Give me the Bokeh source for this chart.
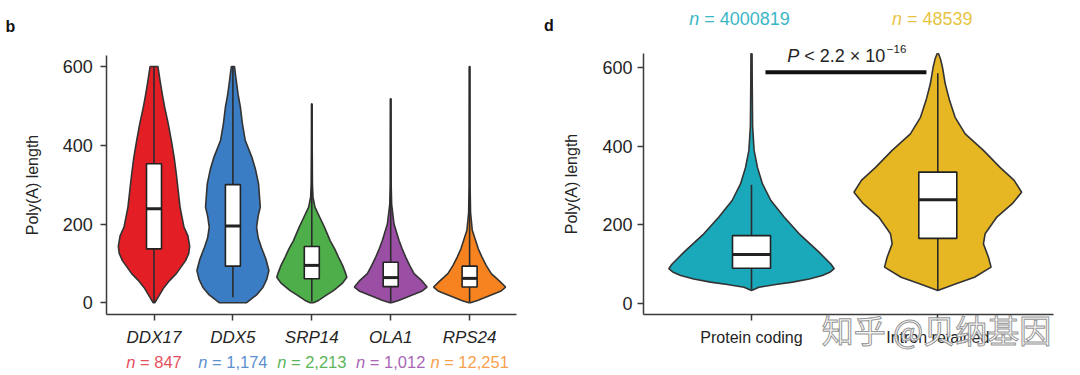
from bokeh.plotting import figure
from bokeh.layouts import row
from bokeh.models import Range1d, FixedTicker, Label
from bokeh.embed import file_html
from bokeh.resources import INLINE

FONT = "Liberation Sans"

# ---------------- panel b data ----------------
genes = ["DDX17", "DDX5", "SRP14", "OLA1", "RPS24"]
gene_counts = ["847", "1,174", "2,213", "1,012", "12,251"]
gene_fill = ["#E31E24", "#3B7DC4", "#4DAE4A", "#9A4FA5", "#F6831F"]
gene_count_color = ["#E5505E", "#5D90CF", "#5BB65A", "#A866B6", "#F7A04E"]

# violin outlines: poly(A) length values and half-widths (category units)
ddx17_y = [0, 20, 39, 57, 74, 107, 125, 143, 170, 192, 243, 327, 370, 412, 455, 497, 530, 565, 600]
ddx17_w = [0.01, 0.07, 0.127, 0.2, 0.283, 0.40, 0.44, 0.452, 0.43, 0.38, 0.33, 0.283, 0.255, 0.22, 0.18, 0.135, 0.105, 0.076, 0.05]
ddx5_y = [0, 20, 39, 60, 82, 110, 141, 165, 192, 220, 243, 302, 340, 370, 412, 455, 497, 530, 565, 600]
ddx5_w = [0.17, 0.3, 0.38, 0.43, 0.456, 0.42, 0.36, 0.32, 0.30, 0.32, 0.347, 0.325, 0.285, 0.24, 0.157, 0.12, 0.095, 0.065, 0.042, 0.02]
srp14_y = [0, 6, 20, 31, 50, 65, 74, 95, 116, 137, 158, 192, 209, 243, 268, 300, 400, 505]
srp14_w = [0.02, 0.085, 0.19, 0.275, 0.39, 0.444, 0.43, 0.39, 0.338, 0.29, 0.232, 0.16, 0.12, 0.04, 0.015, 0.008, 0.005, 0.004]
ola1_y = [0, 6, 18, 30, 40, 55, 74, 95, 116, 137, 158, 200, 250, 300, 518]
ola1_w = [0.01, 0.1, 0.25, 0.4, 0.46, 0.4, 0.296, 0.24, 0.19, 0.145, 0.106, 0.042, 0.012, 0.006, 0.004]
rps24_y = [0, 6, 18, 30, 40, 55, 74, 95, 116, 137, 158, 184, 230, 300, 600]
rps24_w = [0.01, 0.1, 0.25, 0.4, 0.456, 0.38, 0.275, 0.21, 0.157, 0.11, 0.076, 0.034, 0.012, 0.006, 0.004]
gene_violin_y = [ddx17_y, ddx5_y, srp14_y, ola1_y, rps24_y]
gene_violin_w = [ddx17_w, ddx5_w, srp14_w, ola1_w, rps24_w]

gene_q1 = [137, 93, 61, 41, 40]
gene_med = [239, 195, 95, 64, 62]
gene_q3 = [353, 300, 143, 103, 93]
gene_lo = [0, 14, 3, 2, 2]
gene_hi = [600, 600, 505, 518, 600]

# ---------------- panel d data ----------------
groups = ["Protein coding", "Intron retained"]
group_counts = ["4000819", "48539"]
group_fill = ["#1AA9BB", "#E6B722"]
group_count_color = ["#3BB6C6", "#E8C443"]

pc_y = [34, 42, 49, 55, 63, 72, 80, 89, 101, 135, 177.5, 220, 262, 304, 346, 389, 450, 550, 634]
pc_w = [0.0, 0.04, 0.13, 0.22, 0.31, 0.38, 0.42, 0.444, 0.426, 0.354, 0.256, 0.175, 0.104, 0.059, 0.032, 0.014, 0.006, 0.004, 0.003]
ir_y = [34, 51, 67.5, 93, 118, 152, 177.5, 220, 254, 283, 313, 346, 389, 431, 473, 516, 558, 600, 620, 634]
ir_w = [0.0, 0.098, 0.197, 0.286, 0.272, 0.245, 0.254, 0.317, 0.40, 0.45, 0.41, 0.334, 0.245, 0.147, 0.093, 0.063, 0.04, 0.025, 0.015, 0.004]
group_violin_y = [pc_y, ir_y]
group_violin_w = [pc_w, ir_w]

group_q1 = [90, 166]
group_med = [125, 264]
group_q3 = [173, 334]
group_lo = [36, 34]
group_hi = [302, 585]

p_text = "2.2 × 10"
p_exp = "−16"
bar_y = 587
watermark = "知乎 @贝纳基因"

AXIS_C = "#3a3a3a"
TEXT_C = "#242424"

# approximate Arial advance widths (em)
CW = {" ": 0.278, "=": 0.584, "<": 0.584, "×": 0.584, ".": 0.278, ",": 0.278,
      "n": 0.556, "P": 0.667, "−": 0.584}


def tw(s, size):
    return sum(CW.get(c, 0.556) for c in s) * size


def base_fig(xr, yr, x_bounds, y_bounds, ylab_standoff, yaxis_standoff):
    p = figure(width=540, height=375, x_range=xr, y_range=yr,
               output_backend="svg", toolbar_location=None, min_border=0)
    p.outline_line_color = None
    p.xgrid.visible = False
    p.ygrid.visible = False
    p.background_fill_color = "white"
    p.border_fill_color = "white"
    for ax in (p.xaxis[0], p.yaxis[0]):
        ax.axis_line_color = AXIS_C
        ax.axis_line_width = 1.5
        ax.major_tick_line_color = AXIS_C
        ax.major_tick_line_width = 1.5
        ax.major_tick_out = 6
        ax.major_tick_in = 0
        ax.minor_tick_line_color = None
        ax.major_label_text_font = FONT
        ax.major_label_text_color = TEXT_C
    p.xaxis.fixed_location = y_bounds[0]
    p.xaxis.bounds = x_bounds
    p.yaxis.fixed_location = x_bounds[0]
    p.yaxis.bounds = y_bounds
    p.yaxis.ticker = FixedTicker(ticks=[0, 200, 400, 600])
    p.yaxis.major_label_text_font_size = "18px"
    p.yaxis.major_label_standoff = ylab_standoff
    p.yaxis.axis_label = "Poly(A) length"
    p.yaxis.axis_label_text_font = FONT
    p.yaxis.axis_label_text_font_size = "16px"
    p.yaxis.axis_label_text_font_style = "normal"
    p.yaxis.axis_label_text_color = TEXT_C
    p.yaxis.axis_label_standoff = yaxis_standoff
    p.xaxis.major_label_standoff = 8
    return p


def draw_violins(p, ys, ws, fills, q1, med, q3, lo, hi, box_hw, med_w):
    for i in range(len(ys)):
        y = ys[i]
        w = ws[i]
        xs = [i + v for v in w] + [i - v for v in reversed(w)]
        yy = list(y) + list(reversed(y))
        p.patch(xs, yy, fill_color=fills[i], line_color="#333333", line_width=1.6)
    xs_c = list(range(len(ys)))
    p.segment(x0=xs_c, y0=lo, x1=xs_c, y1=hi, line_color="#2b2b2b", line_width=1.6)
    p.quad(left=[i - box_hw for i in xs_c], right=[i + box_hw for i in xs_c],
           bottom=q1, top=q3, fill_color="white", line_color="#222222", line_width=1.6)
    p.segment(x0=[i - box_hw for i in xs_c], y0=med, x1=[i + box_hw for i in xs_c], y1=med,
              line_color="#222222", line_width=med_w)


def n_label(p, x, y, num, color, size):
    w_n = tw("n", size)
    w_sp = tw(" ", size)
    rest = "= " + num
    total = w_n + w_sp + tw(rest, size)
    start = -total / 2
    p.add_layout(Label(x=x, y=y, text="n", text_font=FONT, text_font_size=f"{size}px",
                       text_font_style="italic", text_color=color, text_align="left",
                       text_baseline="middle", x_offset=start))
    p.add_layout(Label(x=x, y=y, text=rest, text_font=FONT, text_font_size=f"{size}px",
                       text_color=color, text_align="left", text_baseline="middle",
                       x_offset=start + w_n + w_sp))


# ---------------- panel b ----------------
p1 = base_fig(Range1d(-1.9455, 4.8986), Range1d(-184.6, 767.6), (-0.6, 4.6), (-29.7, 628), 8, 18)
draw_violins(p1, gene_violin_y, gene_violin_w, gene_fill, gene_q1, gene_med, gene_q3,
             gene_lo, gene_hi, 0.095, 3)
p1.xaxis.ticker = FixedTicker(ticks=list(range(len(genes))))
p1.xaxis.major_label_overrides = {i: g for i, g in enumerate(genes)}
p1.xaxis.major_label_text_font_style = "italic"
p1.xaxis.major_label_text_font_size = "17px"
for i, (c, col) in enumerate(zip(gene_counts, gene_count_color)):
    n_label(p1, i, -150.8, c, col, 16.5)
p1.add_layout(Label(x=-1.882, y=702, text="b", text_font=FONT, text_font_size="16px",
                    text_font_style="bold", text_color="#111111", text_align="left",
                    text_baseline="middle"))

# ---------------- panel d ----------------
p2 = base_fig(Range1d(-1.1326, 1.766), Range1d(-181.8, 769.2), (-0.58, 1.62), (-27.9, 634.6), 5, 19)
draw_violins(p2, group_violin_y, group_violin_w, group_fill, group_q1, group_med, group_q3,
             group_lo, group_hi, 0.102, 3)
p2.xaxis.ticker = FixedTicker(ticks=[0, 1])
p2.xaxis.major_label_overrides = {i: g for i, g in enumerate(groups)}
p2.xaxis.major_label_text_font_size = "16px"
n_label(p2, -0.064, 722.8, group_counts[0], group_count_color[0], 18)
n_label(p2, 0.97, 722.8, group_counts[1], group_count_color[1], 18)
p2.segment(x0=[0.075], y0=[bar_y], x1=[0.939], y1=[bar_y], line_color="#111111", line_width=4)
px = 0.192
s = 18
p2.add_layout(Label(x=px, y=629.7, text="P", text_font=FONT, text_font_size=f"{s}px",
                    text_font_style="italic", text_color=TEXT_C, text_baseline="middle",
                    text_align="left"))
off = tw("P ", s)
p2.add_layout(Label(x=px, y=629.7, text="<", text_font=FONT, text_font_size=f"{s}px",
                    text_color=TEXT_C, text_baseline="middle", text_align="left", x_offset=off))
off += tw("< ", s)
p2.add_layout(Label(x=px, y=629.7, text=p_text, text_font=FONT, text_font_size=f"{s}px",
                    text_color=TEXT_C, text_baseline="middle", text_align="left", x_offset=off))
off += tw(p_text, s) + 1.5
p2.add_layout(Label(x=px, y=647, text=p_exp, text_font=FONT, text_font_size="11.5px",
                    text_color=TEXT_C, text_baseline="middle", text_align="left", x_offset=off))
p2.add_layout(Label(x=-1.114, y=705.8, text="d", text_font=FONT, text_font_size="16px",
                    text_font_style="bold", text_color="#111111", text_align="left",
                    text_baseline="middle"))
# watermark
p2.add_layout(Label(x=0.993, y=-65, text=watermark, text_font="Noto Sans CJK SC",
                    text_font_size="32px", text_color="#f6f6f6", text_alpha=0.9,
                    text_outline_color="#8a8a8a",
                    text_align="center", text_baseline="middle"))

layout = row(p1, p2)
open("out.html", "w").write(file_html(layout, INLINE))
